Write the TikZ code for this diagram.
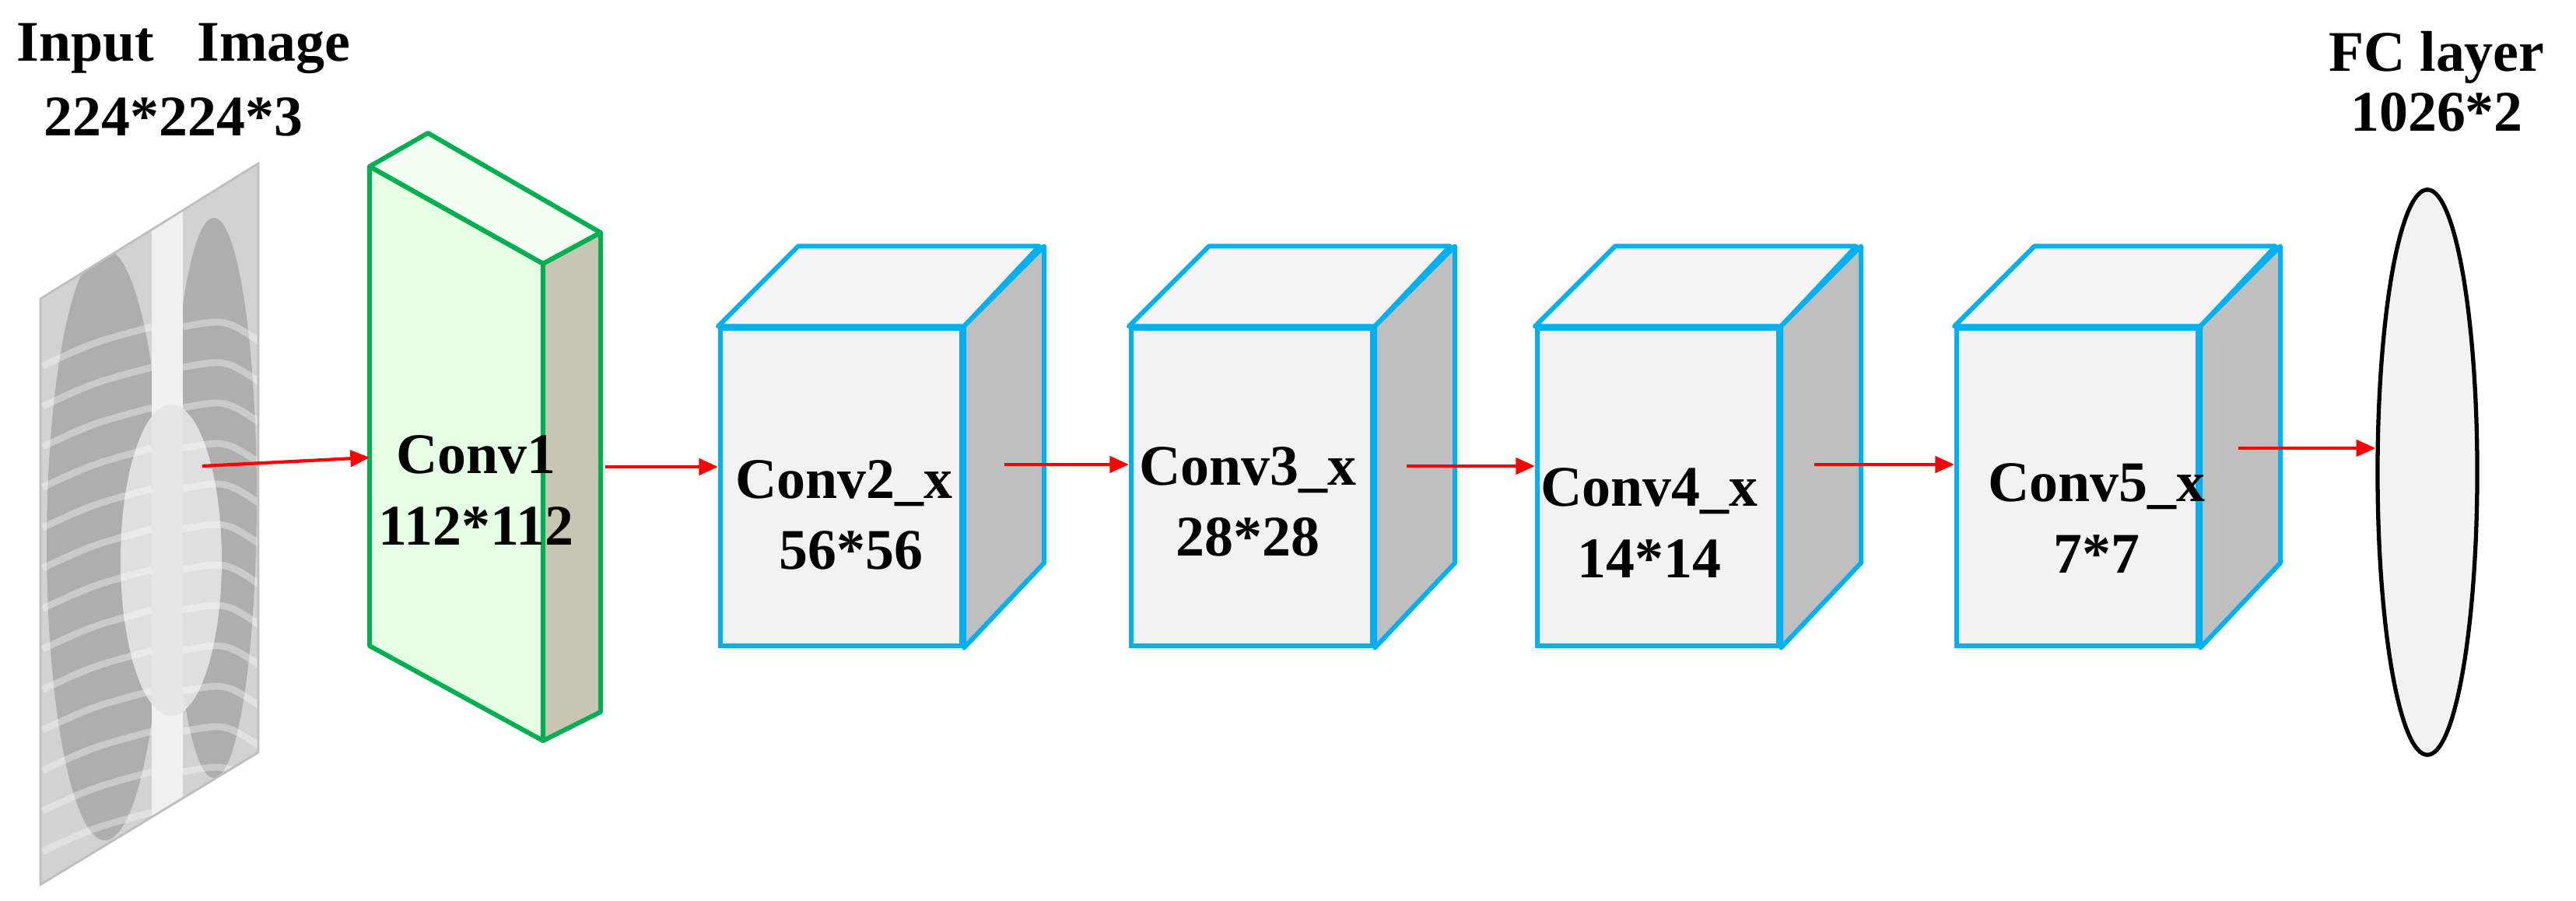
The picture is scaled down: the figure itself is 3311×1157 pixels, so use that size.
\documentclass[tikz,border=0pt]{standalone}
\usepackage{fontspec}
\setmainfont{Liberation Serif}
\usetikzlibrary{shapes.geometric,arrows.meta}

\definecolor{cubeblue}{RGB}{0,176,240}
\definecolor{convgreen}{RGB}{0,176,80}

\tikzset{
    lbl/.style={font=\fontsize{21}{24}\selectfont\bfseries, align=center},
    front/.style={draw=cubeblue, line width=1.7pt, fill=gray!10, minimum width=3.1cm, minimum height=4.07cm, inner sep=0pt},
    flow/.style={-{Triangle[length=7pt,width=6pt]}, red, line width=1.2pt}
}

\begin{document}
\begin{tikzpicture}[x=0.01cm, y=-0.01cm]
        \useasboundingbox (0,0) rectangle (3311,1157);

        % input image
        \coordinate (i1) at (52,384);
        \coordinate (i2) at (332,210);
        \coordinate (i3) at (332,967);
        \coordinate (i4) at (52,1137);
        \begin{scope}
            \clip (i1) -- (i2) -- (i3) -- (i4) -- cycle;
            \fill[gray!35] (0,150) rectangle (400,1157);
            \fill[gray!70, opacity=0.8] (135,700) ellipse (75 and 380);
            \fill[gray!70, opacity=0.8] (275,640) ellipse (55 and 360);
            \fill[gray!12] (195,200) rectangle (235,1157);
            \fill[gray!20, opacity=0.9] (220,720) ellipse (65 and 200);
            \foreach \r in {0,...,13}
                \draw[white, opacity=0.35, line width=2.5pt] (55,470+52*\r) .. controls (120,440+52*\r) .. (195,420+52*\r)
                    (235,420+52*\r) .. controls (290,410+52*\r) .. (335,440+52*\r);
        \end{scope}
        \draw[gray!50, line width=0.8pt] (i1) -- (i2) -- (i3) -- (i4) -- cycle;
        \node[lbl] (inp) at (236,62) {Input\ \ \ Image};
        \node[lbl] (inpsz) at (223,150) {224*224*3};

        % conv1
        \coordinate (a1) at (475,214);
        \coordinate (a2) at (698,339);
        \coordinate (a3) at (698,952);
        \coordinate (a4) at (475,830);
        \coordinate (a5) at (550,171);
        \coordinate (a6) at (772,299);
        \coordinate (a7) at (772,915);
        \filldraw[draw=convgreen, fill=green!5, line width=1.7pt, line join=round] (a1) -- (a5) -- (a6) -- (a2) -- cycle;
        \filldraw[draw=convgreen, fill=green!10, line width=1.7pt, line join=round] (a1) -- (a2) -- (a3) -- (a4) -- cycle;
        \filldraw[draw=convgreen, fill=olive!20!gray!50, line width=1.7pt, line join=round] (a2) -- (a6) -- (a7) -- (a3) -- cycle;
        \node[lbl] (c1) at (612,630) {Conv1\\[2pt]112*112};

        % cubes
        \foreach \n/\x in {2/926, 3/1454, 4/1976, 5/2515} {
            \node[front] (f\n) at (\x+155,626) {};
            \filldraw[draw=cubeblue, fill=gray!8, line width=1.7pt, line join=round]
                (f\n.north west) -- ++(103,-103) -- ++(310,0) -- (f\n.north east) -- cycle;
            \filldraw[draw=cubeblue, fill=gray!50, line width=1.7pt, line join=round]
                (f\n.north east) -- ++(103,-103) -- ++(0,407) -- (f\n.south east) -- cycle;
        }
        \node[lbl] (c2) at (1085,662) {Conv2\_x\\[2pt]\ 56*56};
        \node[lbl] (c3) at (1604,645) {Conv3\_x\\[2pt]28*28};
        \node[lbl] (c4) at (2120,672) {Conv4\_x\\[2pt]14*14};
        \node[lbl] (c5) at (2695,666) {Conv5\_x\\[2pt]7*7};

        % fc layer
        \node[draw, ellipse, line width=1.5pt, fill=gray!10, minimum width=1.28cm, minimum height=7.26cm] (fc) at (3120,607) {};
        \node[lbl] (fct) at (3132,105) {FC layer\\[-2pt]1026*2};

        % arrows
        \coordinate (s0) at (260,599);
        \coordinate (s1) at (778,600);
        \coordinate (s2) at (1291,597);
        \coordinate (s3) at (1808,599);
        \coordinate (s4) at (2332,597);
        \coordinate (s5) at (2877,576);
        \draw[flow] (s0) -- (a1 |- 0,588);
        \draw[flow] (s1) -- (f2.west |- s1);
        \draw[flow] (s2) -- (f3.west |- s2);
        \draw[flow] (s3) -- (f4.west |- s3);
        \draw[flow] (s4) -- (f5.west |- s4);
        \draw[flow] (s5) -- (fc.west |- s5);
    \end{tikzpicture}
\end{document}
